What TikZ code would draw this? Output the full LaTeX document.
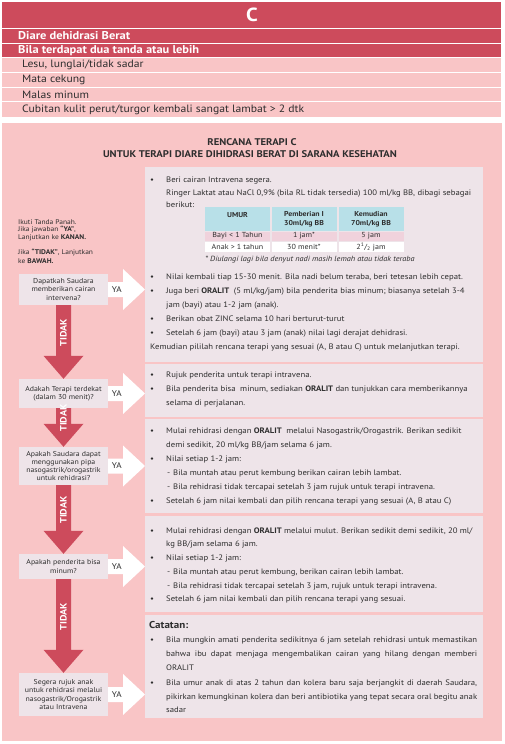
\documentclass[tikz,border=0pt]{standalone}
\usepackage{fontspec}
\setmainfont{PT Sans}[FakeStretch=1.1]
\usetikzlibrary{calc}
\definecolor{redc}{HTML}{CD4B5C}
\definecolor{pinkc}{HTML}{F9C5C6}
\definecolor{greyc}{HTML}{EEE4E9}
\definecolor{cyanc}{HTML}{B8E0E8}
\definecolor{rowpink}{HTML}{F0D2DC}
\definecolor{txtc}{HTML}{2E2E2E}
\newcounter{lc}
\newcommand\Tl[3]{\stepcounter{lc}\node[txt] (t\arabic{lc}) at (#1,#2) {#3};}
\newcommand\Bl[2]{\stepcounter{lc}\node[txt] (t\arabic{lc}) at (150,#1) {\textbullet};\stepcounter{lc}\node[txt] (t\arabic{lc}) at (166,#1) {#2};}
\newcommand\Dl[2]{\stepcounter{lc}\node[txt] (t\arabic{lc}) at (167,#1) {-};\stepcounter{lc}\node[txt] (t\arabic{lc}) at (173,#1) {#2};}
\newcommand\Jl[2]{\stepcounter{lc}\node[txt] (t\arabic{lc}) at (166,#1) {\makebox[311pt][s]{#2}};}
\newcommand\downarr[3]{%
  \fill[redc] ($(#1.south)+(-7.5,0)$) -- ($(#2.north)+(-7.5,-23)$) -- ($(#2.north)+(-20,-23)$) -- (#2.north)
    -- ($(#2.north)+(20,-23)$) -- ($(#2.north)+(7.5,-23)$) -- ($(#1.south)+(7.5,0)$) -- cycle;
  \node[tidak] (#3) at ($($(#1.south)!0.5!($(#2.north)+(0,-23)$)$)+(0,2)$) {TIDAK};}
\newcommand\rightarr[3]{%
  \coordinate (#3tip) at (#2.west |- #1.east);
  \fill[white] ($(#1.east)+(0,-7.5)$) -- ($(#3tip)+(-22,-7.5)$) -- ($(#3tip)+(-22,-20.5)$) -- (#3tip)
    -- ($(#3tip)+(-22,20.5)$) -- ($(#3tip)+(-22,7.5)$) -- ($(#1.east)+(0,7.5)$) -- cycle;
  \node[ya] (#3) at ($(#1.east)+(8.5,0)$) {YA};}
\begin{document}
\begin{tikzpicture}[x=1pt,y=-1pt,
  txt/.style={anchor=west, inner sep=0pt, font=\fontsize{7.9}{9}\selectfont, text=txtc, text height=5.5pt, text depth=1.5pt},
  htxt/.style={anchor=west, inner sep=0pt, font=\fontsize{10.6}{12}\selectfont, text=txtc},
  hbold/.style={htxt, font=\fontsize{11.3}{12}\selectfont\bfseries, text=white},
  qbox/.style={fill=greyc, minimum width=89pt, inner sep=0pt, align=center, font=\fontsize{7.1}{8.2}\selectfont, text=txtc},
  gbox/.style={fill=greyc, minimum width=338pt, inner sep=0pt, anchor=north west},
  tidak/.style={rotate=90, text=white, font=\fontsize{9.2}{10}\selectfont\bfseries, inner sep=0pt},
  ya/.style={text=txtc, font=\fontsize{8.3}{9}\selectfont, inner sep=0pt},
  cell/.style={inner sep=0pt, anchor=north west, minimum width=65pt},
  ctxt/.style={inner sep=0pt, align=center, font=\fontsize{7.3}{8.6}\selectfont, text=txtc},
  itxt/.style={anchor=west, inner sep=0pt, font=\fontsize{6.8}{8}\selectfont, text=txtc},
  ttl/.style={font=\fontsize{9.7}{11}\selectfont\bfseries, text=txtc, inner sep=0pt}]
\useasboundingbox (0,0) rectangle (504,744);
\fill[white] (0,0) rectangle (504,744);
% header
\fill[redc] (2,1.5) rectangle (501,27.5);
\node[text=white, font=\fontsize{19}{20}\selectfont\bfseries, inner sep=0pt] (hc) at (252,14.5) {C};
\fill[redc] (2,29.3) rectangle (501,42.7);
\node[hbold] (h1) at (18,36) {Diare dehidrasi Berat};
\fill[redc] (2,44.3) rectangle (501,57.3);
\node[hbold] (h2) at (18,51) {Bila terdapat dua tanda atau lebih};
\fill[pinkc] (2,58.3) rectangle (501,72.3);
\node[htxt] (h3) at (22,65.3) {Lesu, lunglai/tidak sadar};
\fill[pinkc] (2,73.3) rectangle (501,86.7);
\node[htxt] (h4) at (22,80) {Mata cekung};
\fill[pinkc] (2,87.7) rectangle (501,101.3);
\node[htxt] (h5) at (22,94.5) {Malas minum};
\fill[pinkc] (2,102.3) rectangle (501,117.3);
\node[htxt] (h6) at (22,109.5) {Cubitan kulit perut/turgor kembali sangat lambat > 2 dtk};
% main area
\fill[pinkc] (2,122.5) rectangle (502,741);
\node[ttl] (ti1) at (252,142) {RENCANA TERAPI C};
\node[ttl] (ti2) at (250,154) {UNTUK TERAPI DIARE DIHIDRASI BERAT DI SARANA KESEHATAN};
% left instructions
\node[itxt] (i1) at (18,222) {Ikuti Tanda Panah.};
\node[itxt] (i2) at (18,230) {Jika jawaban \textbf{“YA”},};
\node[itxt] (i3) at (18,238) {Lanjutkan ke \textbf{KANAN.}};
\node[itxt] (i4) at (18,253) {Jika \textbf{“TIDAK”}, Lanjutkan};
\node[itxt] (i5) at (18,261) {ke \textbf{BAWAH.}};
% grey boxes
\node[gbox, minimum height=195pt] (b1) at (145,167) {};
\node[gbox, minimum height=53pt] (b2) at (145,364) {};
\node[gbox, minimum height=94pt] (b3) at (145,419) {};
\node[gbox, minimum height=96pt] (b4) at (145,516) {};
\node[gbox, minimum height=103pt] (b5) at (145,615) {};
% question boxes
\node[qbox, minimum height=31pt] (q1) at (63.5,289.5) {Dapatkah Saudara\\memberikan cairan\\intervena?};
\node[qbox, minimum height=29pt] (q2) at (63.5,393.5) {Adakah Terapi terdekat\\(dalam 30 menit)?};
\node[qbox, minimum height=38pt] (q3) at (63.5,466) {Apakah Saudara dapat\\menggunakan pipa\\nasogastrik/orogastrik\\untuk rehidrasi?};
\node[qbox, minimum height=25pt] (q4) at (63.5,566.5) {Apakah penderita bisa\\minum?};
\node[qbox, minimum height=43pt] (q5) at (63.5,694.5) {Segera rujuk anak\\untuk rehidrasi melalui\\nasogastrik/Orogastrik\\atau Intravena};
% arrows
\downarr{q1}{q2}{td1}
\downarr{q2}{q3}{td2}
\downarr{q3}{q4}{td3}
\downarr{q4}{q5}{td4}
\rightarr{q1}{b1}{ya1}
\rightarr{q2}{b2}{ya2}
\rightarr{q3}{b3}{ya3}
\rightarr{q4}{b4}{ya4}
\rightarr{q5}{b5}{ya5}
% box 1 text
\Bl{180}{Beri cairan Intravena segera.}
\Tl{166}{193}{Ringer Laktat atau NaCl 0,9\% (bila RL tidak tersedia) 100 ml/kg BB, dibagi sebagai}
\Tl{166}{205}{berikut:}
% table
\node[cell, fill=cyanc, minimum height=24pt] (c11) at (205,207) {};
\node[cell, fill=cyanc, minimum height=24pt] (c12) at (271.5,207) {};
\node[cell, fill=cyanc, minimum height=24pt] (c13) at (338.5,207) {};
\node[cell, fill=rowpink, minimum height=9pt] (c21) at (205,231.5) {};
\node[cell, fill=rowpink, minimum height=9pt] (c22) at (271.5,231.5) {};
\node[cell, fill=rowpink, minimum height=9pt] (c23) at (338.5,231.5) {};
\node[cell, fill=white, minimum height=10.5pt] (c31) at (205,241.5) {};
\node[cell, fill=white, minimum height=10.5pt] (c32) at (271.5,241.5) {};
\node[cell, fill=white, minimum height=10.5pt] (c33) at (338.5,241.5) {};
\node[ctxt, font=\fontsize{7.1}{8.6}\selectfont\bfseries] (u1) at (237.5,215) {UMUR};
\node[ctxt, font=\fontsize{7.1}{8.6}\selectfont\bfseries] (u2) at (304,219.5) {Pemberian I\\30ml/kg BB};
\node[ctxt, font=\fontsize{7.1}{8.6}\selectfont\bfseries] (u3) at (371,219.5) {Kemudian\\70ml/kg BB};
\node[ctxt] (r11) at (237.5,236) {Bayi < 1 Tahun};
\node[ctxt] (r12) at (304,236) {1 jam*};
\node[ctxt] (r13) at (371,236) {5 jam};
\node[ctxt] (r21) at (237.5,246.7) {Anak > 1 tahun};
\node[ctxt] (r22) at (304,246.7) {30 menit*};
\node[ctxt] (r23) at (371,246.7) {2\textsuperscript{1}/\textsubscript{2} jam};
\node[ctxt, font=\fontsize{7.5}{8.6}\selectfont\itshape] (fn) at (310,260) {* Diulangi lagi bila denyut nadi masih lemah atau tidak teraba};
\Bl{277}{Nilai kembali tiap 15-30 menit. Bila nadi belum teraba, beri tetesan lebih cepat.}
\Bl{291}{Juga beri \textbf{ORALIT}\ \ (5 ml/kg/jam) bila penderita bias minum; biasanya setelah 3-4}
\Tl{166}{305}{jam (bayi) atau 1-2 jam (anak).}
\Bl{319}{Berikan obat ZINC selama 10 hari berturut-turut}
\Bl{333}{Setelah 6 jam (bayi) atau 3 jam (anak) nilai lagi derajat dehidrasi.}
\Tl{150}{347}{Kemudian pililah rencana terapi yang sesuai (A, B atau C) untuk melanjutkan terapi.}
% box 2 text
\Bl{375}{Rujuk penderita untuk terapi intravena.}
\Bl{389}{Bila penderita bisa\ \ minum, sediakan \textbf{ORALIT} dan tunjukkan cara memberikannya}
\Tl{166}{403}{selama di perjalanan.}
% box 3 text
\Bl{431}{Mulai rehidrasi dengan \textbf{ORALIT}\ \ melalui Nasogastrik/Orogastrik. Berikan sedikit}
\Tl{166}{445}{demi sedikit, 20 ml/kg BB/jam selama 6 jam.}
\Bl{459}{Nilai setiap 1-2 jam:}
\Dl{473}{Bila muntah atau perut kembung berikan cairan lebih lambat.}
\Dl{487}{Bila rehidrasi tidak tercapai setelah 3 jam rujuk untuk terapi intravena.}
\Bl{501}{Setelah 6 jam nilai kembali dan pilih rencana terapi yang sesuai (A, B atau C)}
% box 4 text
\Bl{531}{Mulai rehidrasi dengan \textbf{ORALIT} melalui mulut. Berikan sedikit demi sedikit, 20 ml/}
\Tl{166}{544}{kg BB/jam selama 6 jam.}
\Bl{558}{Nilai setiap 1-2 jam:}
\Dl{572}{Bila muntah atau perut kembung, berikan cairan lebih lambat.}
\Dl{586}{Bila rehidrasi tidak tercapai setelah 3 jam, rujuk untuk terapi intravena.}
\Bl{599}{Setelah 6 jam nilai kembali dan pilih rencana terapi yang sesuai.}
% box 5 text
\node[txt, font=\fontsize{10}{11}\selectfont\bfseries] (cat) at (149,626) {Catatan:};
\stepcounter{lc}\node[txt] (t\arabic{lc}) at (150,640) {\textbullet};
\Jl{640}{Bila mungkin amati penderita sedikitnya 6 jam setelah rehidrasi untuk memastikan}
\Jl{654}{bahwa ibu dapat menjaga mengembalikan cairan yang hilang dengan memberi}
\Tl{166}{668}{ORALIT}
\stepcounter{lc}\node[txt] (t\arabic{lc}) at (150,683) {\textbullet};
\Jl{683}{Bila umur anak di atas 2 tahun dan kolera baru saja berjangkit di daerah Saudara,}
\Jl{697}{pikirkan kemungkinan kolera dan beri antibiotika yang tepat secara oral begitu anak}
\Tl{166}{710}{sadar}
\end{tikzpicture}
\end{document}
